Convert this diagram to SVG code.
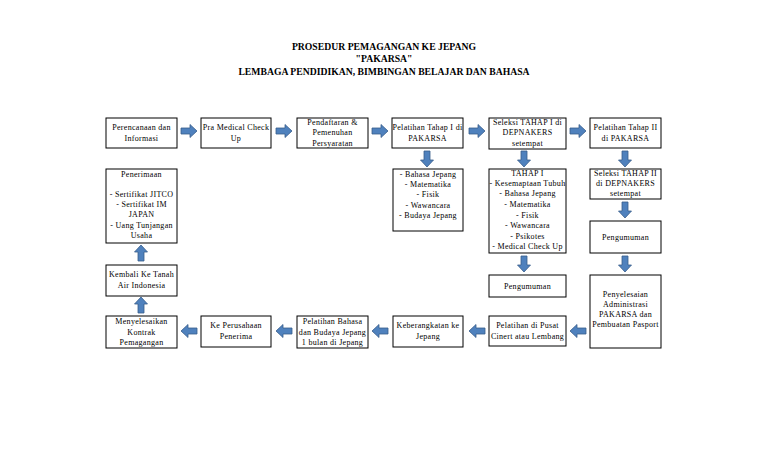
<svg xmlns="http://www.w3.org/2000/svg" xmlns:xlink="http://www.w3.org/1999/xlink" width="768" height="466" viewBox="0 0 768 466">
<style>
.box{fill:#fff;stroke:#000;stroke-width:1}
text{font-family:"Liberation Serif","Times New Roman",serif;fill:#000}
.t{font-size:8px;letter-spacing:0.3px;text-anchor:middle}
.h{font-size:9.7px;font-weight:bold;text-anchor:middle}
.arr{fill:#4f81bd;stroke:#385d8a;stroke-width:0.8}
</style>
<defs>
<path id="a" class="arr" d="M0,-3 H9 V-6.5 L16,0 L9,6.5 V3 H0 Z"/>
</defs>
<rect width="768" height="466" fill="#fff"/>
<g id="title">
<text class="h" x="384" y="50">PROSEDUR PEMAGANGAN KE JEPANG</text>
<text class="h" x="384" y="62">"PAKARSA"</text>
<text class="h" x="384" y="75">LEMBAGA PENDIDIKAN, BIMBINGAN BELAJAR DAN BAHASA</text>
</g>
<g id="connectors">
<use xlink:href="#a" transform="translate(181,131)"/>
<use xlink:href="#a" transform="translate(276,131)"/>
<use xlink:href="#a" transform="translate(372,131)"/>
<use xlink:href="#a" transform="translate(469,131)"/>
<use xlink:href="#a" transform="translate(570,131)"/>
<use xlink:href="#a" transform="translate(427,151) rotate(90)"/>
<use xlink:href="#a" transform="translate(524,151) rotate(90)"/>
<use xlink:href="#a" transform="translate(625,151) rotate(90)"/>
<use xlink:href="#a" transform="translate(625,202) rotate(90)"/>
<use xlink:href="#a" transform="translate(524,256) rotate(90)"/>
<use xlink:href="#a" transform="translate(625,256) rotate(90)"/>
<use xlink:href="#a" transform="translate(586,331) rotate(180)"/>
<use xlink:href="#a" transform="translate(485,331) rotate(180)"/>
<use xlink:href="#a" transform="translate(388,331) rotate(180)"/>
<use xlink:href="#a" transform="translate(292,331) rotate(180)"/>
<use xlink:href="#a" transform="translate(197,331) rotate(180)"/>
<use xlink:href="#a" transform="translate(141,313) rotate(-90)"/>
<use xlink:href="#a" transform="translate(141,261) rotate(-90)"/>
</g>
<g id="n1"><rect class="box" x="106" y="118" width="71" height="30"/>
<text class="t" x="141.5" y="130">Perencanaan dan</text><text class="t" x="141.5" y="141">Informasi</text></g>
<g id="n2"><rect class="box" x="201" y="118" width="70" height="30"/>
<text class="t" x="236" y="130">Pra Medical Check</text><text class="t" x="236" y="141">Up</text></g>
<g id="n3"><rect class="box" x="297" y="118" width="71" height="30"/>
<text class="t" x="332.5" y="125">Pendaftaran &amp;</text><text class="t" x="332.5" y="135">Pemenuhan</text><text class="t" x="332.5" y="146">Persyaratan</text></g>
<g id="n4"><rect class="box" x="392" y="118" width="71" height="30"/>
<text class="t" x="427.5" y="130">Pelatihan Tahap I di</text><text class="t" x="427.5" y="141">PAKARSA</text></g>
<g id="n5"><rect class="box" x="489" y="118" width="77" height="31"/>
<text class="t" x="527.5" y="125">Seleksi TAHAP I di</text><text class="t" x="527.5" y="135">DEPNAKERS</text><text class="t" x="527.5" y="146">setempat</text></g>
<g id="n6"><rect class="box" x="590" y="118" width="71" height="30"/>
<text class="t" x="625.5" y="130">Pelatihan Tahap II</text><text class="t" x="625.5" y="141">di PAKARSA</text></g>
<g id="n7"><rect class="box" x="393" y="169" width="70" height="62"/>
<text class="t" x="428" y="177">- Bahasa Jepang</text><text class="t" x="428" y="187">- Matematika</text><text class="t" x="428" y="197">- Fisik</text><text class="t" x="428" y="208">- Wawancara</text><text class="t" x="428" y="218">- Budaya Jepang</text></g>
<g id="n8"><rect class="box" x="489" y="169" width="77" height="84"/>
<text class="t" x="527.5" y="176">TAHAP I</text><text class="t" x="527.5" y="186">- Kesemaptaan Tubuh</text><text class="t" x="527.5" y="196">- Bahasa Jepang</text><text class="t" x="527.5" y="207">- Matematika</text><text class="t" x="527.5" y="218">- Fisik</text><text class="t" x="527.5" y="228">- Wawancara</text><text class="t" x="527.5" y="239">- Psikotes</text><text class="t" x="527.5" y="249">- Medical Check Up</text></g>
<g id="n9"><rect class="box" x="489" y="275" width="77" height="22"/>
<text class="t" x="527.5" y="289">Pengumuman</text></g>
<g id="n10"><rect class="box" x="590" y="169" width="71" height="30"/>
<text class="t" x="625.5" y="176">Seleksi TAHAP II</text><text class="t" x="625.5" y="186">di DEPNAKERS</text><text class="t" x="625.5" y="196">setempat</text></g>
<g id="n11"><rect class="box" x="590" y="221" width="71" height="32"/>
<text class="t" x="625.5" y="240">Pengumuman</text></g>
<g id="n12"><rect class="box" x="590" y="275" width="71" height="73"/>
<text class="t" x="625.5" y="297">Penyelesaian</text><text class="t" x="625.5" y="307">Administrasi</text><text class="t" x="625.5" y="317">PAKARSA dan</text><text class="t" x="625.5" y="327">Pembuatan Pasport</text></g>
<g id="n13"><rect class="box" x="489" y="316" width="77" height="30"/>
<text class="t" x="527.5" y="328">Pelatihan di Pusat</text><text class="t" x="527.5" y="339">Cinert atau Lembang</text></g>
<g id="n14"><rect class="box" x="393" y="316" width="70" height="31"/>
<text class="t" x="428" y="328">Keberangkatan ke</text><text class="t" x="428" y="339">Jepang</text></g>
<g id="n15"><rect class="box" x="297" y="316" width="71" height="32"/>
<text class="t" x="332.5" y="324">Pelatihan Bahasa</text><text class="t" x="332.5" y="335">dan Budaya Jepang</text><text class="t" x="332.5" y="345">1 bulan di Jepang</text></g>
<g id="n16"><rect class="box" x="201" y="316" width="70" height="31"/>
<text class="t" x="236" y="328">Ke Perusahaan</text><text class="t" x="236" y="339">Penerima</text></g>
<g id="n17"><rect class="box" x="106" y="316" width="71" height="32"/>
<text class="t" x="141.5" y="324">Menyelesaikan</text><text class="t" x="141.5" y="335">Kontrak</text><text class="t" x="141.5" y="345">Pemagangan</text></g>
<g id="n18"><rect class="box" x="106" y="265" width="71" height="31"/>
<text class="t" x="141.5" y="277">Kembali Ke Tanah</text><text class="t" x="141.5" y="288">Air Indonesia</text></g>
<g id="n19"><rect class="box" x="106" y="169" width="71" height="74"/>
<text class="t" x="141.5" y="177">Penerimaan</text><text class="t" x="141.5" y="197">- Sertifikat JITCO</text><text class="t" x="141.5" y="207">- Sertifikat IM</text><text class="t" x="141.5" y="217">JAPAN</text><text class="t" x="141.5" y="228">- Uang Tunjangan</text><text class="t" x="141.5" y="238">Usaha</text></g>
</svg>
